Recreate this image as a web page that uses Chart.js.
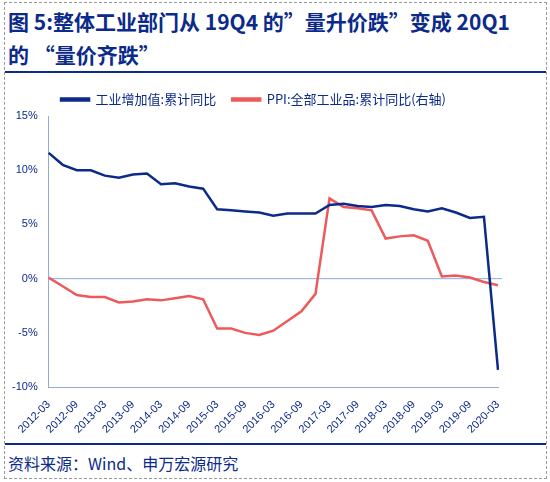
<!DOCTYPE html>
<html>
<head>
<meta charset="utf-8">
<script src="https://cdn.jsdelivr.net/npm/chart.js@4/dist/chart.umd.min.js"></script>
<style>
  body { margin: 0; background: #fff; font-family: "Noto Sans CJK SC", sans-serif; }
  #wrap { position: absolute; left: 4px; top: 2px; width: 543px; height: 477px; border: 1px dashed #999; box-sizing: border-box; }
  #title { position: absolute; left: 3px; top: 2px; width: 540px; color: #0b2a8a; font-weight: bold; font-size: 21px; line-height: 33px; white-space: nowrap; }
  #rule1 { position: absolute; left: 0; right: 0; top: 68px; border-top: 2px solid #0b2a8a; }
  #box { position: absolute; left: 0; top: 74px; width: 541px; height: 364px; }
  #rule2 { position: absolute; left: 0; right: 0; top: 440px; border-top: 2px solid #0b2a8a; }
  #src { position: absolute; left: 3px; top: 448px; color: #0b2a8a; font-size: 16px; }
</style>
</head>
<body>
<div id="wrap">
  <div id="title">图 5:整体工业部门从 19Q4 的”量升价跌”变成 20Q1<br>的 “量价齐跌”</div>
  <div id="rule1"></div>
  <div id="box"><canvas id="c"></canvas></div>
  <div id="rule2"></div>
  <div id="src">资料来源：Wind、申万宏源研究</div>
</div>
<script>
// quarterly, 2012-03 .. 2020-03
const quarters = []
for (let y = 2012; y <= 2020; y++) {
  for (const m of ["03", "06", "09", "12"]) {
    if (y === 2020 && m !== "03") break
    quarters.push(y + "-" + m)
  }
}

const industryValueAdded = [11.6, 10.5, 10.0, 10.0, 9.5, 9.3, 9.6, 9.7, 8.7, 8.8, 8.5, 8.3,
  6.4, 6.3, 6.2, 6.1, 5.8, 6.0, 6.0, 6.0, 6.8, 6.9, 6.7, 6.6, 6.8, 6.7, 6.4, 6.2,
  6.5, 6.1, 5.6, 5.7, -8.4]
const ppi = [0.1, -0.7, -1.5, -1.7, -1.7, -2.2, -2.1, -1.9, -2.0, -1.8, -1.6, -1.9,
  -4.6, -4.6, -5.0, -5.2, -4.8, -3.9, -3.0, -1.4, 7.4, 6.6, 6.5, 6.3, 3.7, 3.9, 4.0, 3.5,
  0.2, 0.3, 0.1, -0.3, -0.6]

const blue = "#0b2a8a"
const axisColor = "#8eaadb"

new Chart(document.getElementById("c"), {
  type: "line",
  data: {
    labels: quarters,
    datasets: [{
      label: "工业增加值:累计同比",
      data: industryValueAdded,
      borderColor: "#0b2a8a",
      backgroundColor: "#0b2a8a",
      borderWidth: 2.5,
      pointRadius: 0,
      tension: 0,
      yAxisID: "y"
    }, {
      label: "PPI:全部工业品:累计同比(右轴)",
      data: ppi,
      borderColor: "#ee5a5a",
      backgroundColor: "#ee5a5a",
      borderWidth: 2.5,
      pointRadius: 0,
      tension: 0,
      yAxisID: "y1"
    }]
  },
  options: {
    responsive: true,
    maintainAspectRatio: false,
    animation: false,
    layout: { padding: { left: 4, right: 48, top: 0, bottom: 2 } },
    plugins: {
      legend: {
        labels: {
          boxWidth: 28, boxHeight: 2, color: blue,
          font: { size: 13, family: "Noto Sans CJK SC" }, padding: 16
        }
      },
      tooltip: { enabled: false }
    },
    scales: {
      x: {
        grid: { display: false, drawTicks: true, tickColor: axisColor },
        border: { color: axisColor },
        ticks: {
          autoSkip: false, maxRotation: 45, minRotation: 45,
          color: blue, font: { size: 11, family: "Liberation Sans" },
          callback: (v, i) => i % 2 === 0 ? quarters[i] : ""
        }
      },
      y: {
        min: -10, max: 15,
        grid: { display: false, tickColor: axisColor },
        border: { color: axisColor },
        ticks: { stepSize: 5, color: blue, font: { size: 11, family: "Liberation Sans" }, callback: v => v + "%" }
      },
      y1: { min: -10, max: 15, display: false }
    }
  },
  plugins: [{
    id: "zeroLine",
    beforeDatasetsDraw(chart) {
      const { ctx, chartArea, scales } = chart
      const y0 = scales.y.getPixelForValue(0)
      ctx.save()
      ctx.strokeStyle = axisColor
      ctx.lineWidth = 1
      ctx.beginPath()
      ctx.moveTo(chartArea.left, y0)
      ctx.lineTo(chartArea.right + 4, y0)
      ctx.stroke()
      ctx.restore()
    }
  }]
})
</script>
</body>
</html>
